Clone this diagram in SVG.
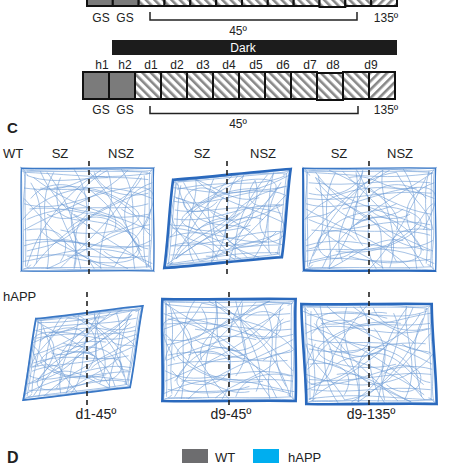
<svg xmlns="http://www.w3.org/2000/svg" xmlns:xlink="http://www.w3.org/1999/xlink" width="474" height="474" viewBox="0 0 474 474">
<style>
text{font-family:"Liberation Sans",Arial,sans-serif;fill:#222}
.lb{font-size:12px;text-anchor:middle}
.lc{font-size:13px;text-anchor:middle}
.ld{font-size:14px;text-anchor:middle}
.bx{stroke:#111;stroke-width:2}
.gs{fill:#7b7b7b}
.h45{fill:url(#p45)}
.h135{fill:url(#p135)}
.brk{fill:none;stroke:#222;stroke-width:1.5}
.dash{stroke:#222;stroke-width:1.6;stroke-dasharray:5 4}
.trk{fill:none;stroke:#6b9bd6;stroke-width:0.7;opacity:0.85}
.edg{fill:none;stroke:#3a78c6;stroke-width:1.2}
.thk{fill:none;stroke:#2a69bd;stroke-width:2.6}
.bold{font-weight:bold}
</style>
<defs>
<pattern id="p45" width="6" height="6" patternUnits="userSpaceOnUse" patternTransform="rotate(-45)"><rect width="6" height="6" fill="#fff"/><rect width="2.6" height="6" fill="#888"/></pattern>
<pattern id="p135" width="6" height="6" patternUnits="userSpaceOnUse" patternTransform="rotate(45)"><rect width="6" height="6" fill="#fff"/><rect width="2.6" height="6" fill="#888"/></pattern>
<g id="pA">
<path vector-effect="non-scaling-stroke" d="M5,8 C30,20 50,5 95,12 M3,30 C25,60 40,90 70,95 M10,95 C30,60 60,40 97,20 M8,15 C20,40 15,70 12,92 M20,5 C35,30 45,60 40,95 M50,3 C70,30 80,60 92,90 M95,35 C70,45 40,30 5,50 M4,70 C30,65 60,80 96,75 M30,96 C50,70 70,50 90,5 M60,97 C55,70 75,40 65,4 M96,55 C70,60 50,80 20,97 M7,40 C40,35 60,55 95,45 M15,4 C30,50 70,70 97,95 M80,3 C60,30 30,40 3,60 M5,85 C40,80 60,90 95,85 M92,8 C95,40 88,70 94,96 M25,20 C50,15 70,25 85,40 S60,70 30,60 M40,45 C50,55 65,50 75,60 M3,20 C30,25 50,15 70,30 S90,60 97,65 M45,97 C40,60 20,40 30,10 M70,95 C80,70 95,60 97,40"/>
</g>
<g id="pB">
<path vector-effect="non-scaling-stroke" d="M2,50 C20,20 60,10 98,30 M5,95 C15,50 40,20 60,3 M40,2 C60,40 40,70 55,97 M97,70 C70,90 40,60 3,75 M10,10 C40,40 60,40 96,60 M20,97 C25,70 10,40 25,5 M85,97 C80,60 90,30 75,2 M3,35 C30,45 50,25 80,20 S97,40 90,60 M35,60 C50,40 70,45 85,70 S60,95 35,85 M2,90 C30,85 55,65 98,92 M65,3 C40,20 30,50 45,75 M98,15 C75,25 70,50 90,80 M15,60 C25,75 45,80 60,96 M50,50 C30,55 20,30 10,20 M3,5 C50,8 60,12 97,6 M70,60 C75,45 60,30 50,20"/>
</g>
<g id="pC">
<path vector-effect="non-scaling-stroke" d="M8,30 C20,10 45,15 50,30 S35,55 20,45 M60,70 C70,55 90,60 88,75 S70,90 62,80 M5,60 C30,55 40,70 30,90 M55,5 C60,25 80,30 95,25 M30,35 C45,45 55,40 70,50 S80,75 95,78 M25,70 C45,65 60,85 80,97 M90,10 C80,35 60,35 45,55 S20,75 5,80 M40,97 C45,80 35,60 50,45 M15,20 C40,25 45,5 65,10 M75,40 C85,50 95,45 97,50"/>
</g>
<g id="bd">
<path vector-effect="non-scaling-stroke" d="M2,2 C25,4 50,0 75,3 S98,1 98,3 C96,25 99,50 97,75 S99,97 97,98 C75,96 50,99 25,97 S2,99 2,97 C4,75 1,50 3,25 S1,4 2,2 Z M1,4 C30,1 60,4 99,1 C98,35 100,65 99,99 C60,98 35,100 1,99 C0,65 2,35 1,4 Z M4,5 C3,40 5,70 4,95 M5,96 C40,95 70,97 96,95 M96,5 C95,40 97,70 95,95 M5,4 C40,5 70,3 95,5 M0,0 C5,3 3,6 6,8 M100,0 C96,4 97,6 93,7 M0,100 C4,95 6,97 8,93 M100,100 C95,96 97,94 93,93"/>
</g>
<path id="bo" vector-effect="non-scaling-stroke" d="M1,1 C30,2 70,0 99,1 C98,30 100,70 99,99 C70,98 30,100 1,99 C2,70 0,30 1,1 Z"/>
</defs>
<rect width="474" height="474" fill="#fff"/>

<g id="timeline-top">
<rect class="bx gs" x="87" y="-20" width="25.8" height="26"/>
<rect class="bx gs" x="112.8" y="-20" width="25.8" height="26"/>
<rect class="bx h45" x="138.7" y="-20" width="25.8" height="26"/>
<rect class="bx h45" x="164.5" y="-20" width="25.8" height="26"/>
<rect class="bx h45" x="190.3" y="-20" width="25.8" height="26"/>
<rect class="bx h45" x="216.2" y="-20" width="25.8" height="26"/>
<rect class="bx h45" x="242" y="-20" width="25.8" height="26"/>
<rect class="bx h45" x="267.8" y="-20" width="25.8" height="26"/>
<rect class="bx h45" x="293.7" y="-20" width="25.8" height="26"/>
<rect class="bx h45" x="319.5" y="-19" width="25.8" height="26"/>
<rect class="bx h45" x="345.3" y="-20" width="25.8" height="26"/>
<rect class="bx h135" x="371.2" y="-20" width="25.8" height="26"/>
<text class="lb" x="101" y="22">GS</text>
<text class="lb" x="125" y="22">GS</text>
<path class="brk" d="M150,12 V20 H357 V12"/>
<text class="lb" x="386" y="22">135º</text>
<text class="lb" x="238" y="35">45º</text>
</g>

<g id="dark-bar">
<rect x="112" y="40" width="285" height="15" fill="#1c1c1c"/>
<text class="lb" x="243" y="51.5" style="fill:#fff">Dark</text>
</g>

<g id="timeline-bottom">
<rect class="bx gs" x="83" y="72" width="26" height="27"/>
<rect class="bx gs" x="109" y="72" width="26" height="27"/>
<rect class="bx h45" x="135" y="72" width="26" height="27"/>
<rect class="bx h45" x="161" y="72" width="26" height="27"/>
<rect class="bx h45" x="187" y="72" width="26" height="27"/>
<rect class="bx h45" x="213" y="72" width="26" height="27"/>
<rect class="bx h45" x="239" y="72" width="26" height="27"/>
<rect class="bx h45" x="265" y="72" width="26" height="27"/>
<rect class="bx h45" x="291" y="72" width="26" height="27"/>
<rect class="bx h45" x="317" y="73" width="26" height="27"/>
<rect class="bx h45" x="343" y="72" width="26" height="27"/>
<rect class="bx h135" x="369" y="72" width="26" height="27"/>
<text class="lb" x="102" y="69">h1</text>
<text class="lb" x="125" y="69">h2</text>
<text class="lb" x="151" y="69">d1</text>
<text class="lb" x="177" y="69">d2</text>
<text class="lb" x="203" y="69">d3</text>
<text class="lb" x="229" y="69">d4</text>
<text class="lb" x="256" y="69">d5</text>
<text class="lb" x="283" y="69">d6</text>
<text class="lb" x="310" y="69">d7</text>
<text class="lb" x="333" y="69">d8</text>
<text class="lb" x="371" y="69">d9</text>
<text class="lb" x="101" y="114">GS</text>
<text class="lb" x="125" y="114">GS</text>
<path class="brk" d="M150,106 V113.5 H358 V106"/>
<text class="lb" x="386" y="114">135º</text>
<text class="lb" x="238" y="128">45º</text>
</g>

<text x="7" y="133" class="bold" style="font-size:15px">C</text>

<g id="labels-c">
<text x="3" y="158" style="font-size:13px">WT</text>
<text class="lc" x="60" y="158">SZ</text>
<text class="lc" x="121" y="158">NSZ</text>
<text class="lc" x="202" y="158">SZ</text>
<text class="lc" x="263" y="158">NSZ</text>
<text class="lc" x="339" y="158">SZ</text>
<text class="lc" x="400" y="158">NSZ</text>
<text x="3" y="301" style="font-size:13px">hAPP</text>
<text class="ld" x="96" y="419">d1-45º</text>
<text class="ld" x="231" y="419">d9-45º</text>
<text class="ld" x="371" y="419">d9-135º</text>
</g>

<g id="arena-wt1">
<use href="#pA" class="trk" transform="matrix(1.35,0,0,1.05,20,167)"/>
<use href="#pB" class="trk" transform="matrix(1.35,0,0,1.05,20,167)"/>
<use href="#pC" class="trk" transform="matrix(1.35,0,0,1.05,20,167)"/>
<use href="#bd" class="trk" transform="matrix(1.35,0,0,1.05,20,167)"/>
<use href="#bo" class="edg" transform="matrix(1.35,0,0,1.05,20,167)"/>
</g>
<g id="arena-wt2">
<use href="#pA" class="trk" transform="matrix(1.2,-0.11,-0.09,0.9,172,179) translate(100,0) scale(-1,1)"/>
<use href="#pB" class="trk" transform="matrix(1.2,-0.11,-0.09,0.9,172,179) translate(0,100) scale(1,-1)"/>
<use href="#pC" class="trk" transform="matrix(1.2,-0.11,-0.09,0.9,172,179) translate(100,100) scale(-1,-1)"/>
<use href="#bd" class="trk" transform="matrix(1.2,-0.11,-0.09,0.9,172,179)"/>
<use href="#bo" class="thk" transform="matrix(1.2,-0.11,-0.09,0.9,172,179)"/>
</g>
<g id="arena-wt3">
<use href="#pA" class="trk" transform="matrix(1.35,0,0,1.05,302,167) translate(0,100) scale(1,-1)"/>
<use href="#pB" class="trk" transform="matrix(1.35,0,0,1.05,302,167)"/>
<use href="#pC" class="trk" transform="matrix(1.35,0,0,1.05,302,167) translate(100,0) scale(-1,1)"/>
<use href="#bd" class="trk" transform="matrix(1.35,0,0,1.05,302,167)"/>
<use href="#bo" class="edg" transform="matrix(1.35,0,0,1.05,302,167)"/>
<path class="thk" d="M303,168 C304,200 302,240 304,270 C340,272 400,270 436,271" style="stroke-width:2"/>
</g>
<g id="arena-happ1">
<use href="#pB" class="trk" transform="matrix(1.09,-0.13,-0.13,0.83,35,318) translate(100,0) scale(-1,1)"/>
<use href="#pC" class="trk" transform="matrix(1.09,-0.13,-0.13,0.83,35,318)"/>
<use href="#pA" class="trk" transform="matrix(1.09,-0.13,-0.13,0.83,35,318) translate(100,100) scale(-1,-1)"/>
<use href="#bd" class="trk" transform="matrix(1.09,-0.13,-0.13,0.83,35,318)"/>
<use href="#bo" class="edg" transform="matrix(1.09,-0.13,-0.13,0.83,35,318)" style="stroke-width:1.8"/>
</g>
<g id="arena-happ2">
<use href="#pA" class="trk" transform="matrix(1.36,0,0,1.04,161,298) translate(100,100) scale(-1,-1)"/>
<use href="#pB" class="trk" transform="matrix(1.36,0,0,1.04,161,298) translate(100,0) scale(-1,1)"/>
<use href="#pC" class="trk" transform="matrix(1.36,0,0,1.04,161,298) translate(0,100) scale(1,-1)"/>
<use href="#bd" class="trk" transform="matrix(1.36,0,0,1.04,161,298)"/>
<use href="#bo" class="thk" transform="matrix(1.36,0,0,1.04,161,298)"/>
</g>
<g id="arena-happ3">
<use href="#pA" class="trk" transform="matrix(1.33,0,0.05,1.02,300,303) translate(100,0) scale(-1,1)"/>
<use href="#pB" class="trk" transform="matrix(1.33,0,0.05,1.02,300,303) translate(100,100) scale(-1,-1)"/>
<use href="#pC" class="trk" transform="matrix(1.33,0,0.05,1.02,300,303)"/>
<use href="#bd" class="trk" transform="matrix(1.33,0,0.05,1.02,300,303)"/>
<use href="#bo" class="thk" transform="matrix(1.33,0,0.05,1.02,300,303)"/>
</g>

<g id="connectors">
<line class="dash" x1="89" y1="161" x2="89" y2="277"/>
<line class="dash" x1="227" y1="161" x2="227" y2="277"/>
<line class="dash" x1="369" y1="161" x2="369" y2="276"/>
<line class="dash" x1="87" y1="292" x2="87" y2="408"/>
<line class="dash" x1="229" y1="292" x2="229" y2="408"/>
<line class="dash" x1="369" y1="292" x2="369" y2="408"/>
</g>

<text x="7" y="463" class="bold" style="font-size:16px">D</text>
<g id="legend">
<rect x="182" y="449" width="26" height="14" fill="#6d6d6f"/>
<text x="215" y="462" style="font-size:13px">WT</text>
<rect x="253" y="449" width="26" height="14" fill="#00aeef"/>
<text x="288" y="462" style="font-size:13px">hAPP</text>
</g>
</svg>
